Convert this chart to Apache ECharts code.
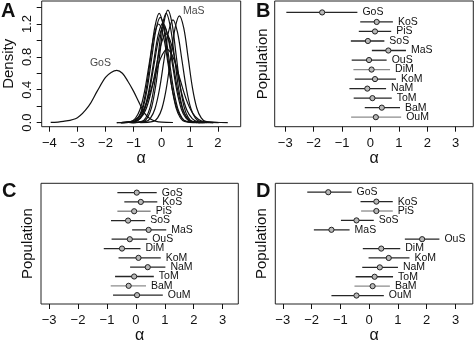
<!DOCTYPE html>
<html><head><meta charset="utf-8">
<script src="https://cdn.jsdelivr.net/npm/echarts@6/dist/echarts.min.js"></script>
<style>html,body{margin:0;padding:0;background:#fff}#c{width:474px;height:345px}</style>
</head><body><div id="c"></div>
<script>
// ---------- DATA ----------
const populations = ['GoS','KoS','PiS','SoS','MaS','OuS','DiM','KoM','NaM','ToM','BaM','OuM'];

// Panel A: posterior densities of alpha (x, density)
const densGoS = [[-3.95,0.002],[-3.5,0.015],[-3.0,0.06],[-2.6,0.2],[-2.3,0.38],[-2.0,0.55],[-1.8,0.61],[-1.6,0.635],[-1.4,0.6],[-1.2,0.5],[-1.0,0.38],[-0.8,0.24],[-0.6,0.11],[-0.4,0.045],[-0.2,0.015],[0.0,0.005],[0.4,0.001]];
const densKoS = [[-1.085,0],[-0.65,0.015],[-0.505,0.06],[-0.36,0.185],[-0.215,0.445],[-0.07,0.83],[0.075,1.21],[0.22,1.37],[0.365,1.21],[0.51,0.83],[0.655,0.445],[0.80,0.185],[0.945,0.06],[1.09,0.015],[1.525,0]];
const densPiS = [[-1.145,0],[-0.71,0.015],[-0.565,0.059],[-0.42,0.18],[-0.275,0.43],[-0.13,0.81],[0.015,1.17],[0.16,1.33],[0.305,1.17],[0.45,0.81],[0.595,0.43],[0.74,0.18],[0.885,0.059],[1.03,0.015],[1.465,0]];
const densSoS = [[-1.44,0],[-0.99,0.015],[-0.84,0.059],[-0.69,0.18],[-0.54,0.43],[-0.39,0.81],[-0.24,1.17],[-0.09,1.33],[0.06,1.17],[0.21,0.81],[0.36,0.43],[0.51,0.18],[0.66,0.059],[0.81,0.015],[1.26,0]];
const densMaS = [[-0.765,0],[-0.30,0.014],[-0.145,0.057],[0.01,0.175],[0.165,0.42],[0.32,0.79],[0.475,1.15],[0.63,1.30],[0.785,1.15],[0.94,0.79],[1.095,0.42],[1.25,0.175],[1.405,0.057],[1.56,0.014],[2.025,0]];
const densOuS = [[-1.445,0],[-0.98,0.014],[-0.825,0.056],[-0.67,0.173],[-0.515,0.416],[-0.36,0.777],[-0.205,1.13],[-0.05,1.28],[0.105,1.13],[0.26,0.777],[0.415,0.416],[0.57,0.173],[0.725,0.056],[0.88,0.014],[1.345,0]];
const densDiM = [[-1.445,0],[-0.95,0.013],[-0.785,0.053],[-0.62,0.163],[-0.455,0.393],[-0.29,0.734],[-0.125,1.067],[0.04,1.21],[0.205,1.067],[0.37,0.734],[0.535,0.393],[0.70,0.163],[0.865,0.053],[1.03,0.013],[1.525,0]];
const densKoM = [[-1.505,0],[-0.95,0.012],[-0.765,0.048],[-0.58,0.146],[-0.395,0.351],[-0.21,0.656],[-0.025,0.953],[0.16,1.08],[0.345,0.953],[0.53,0.656],[0.715,0.351],[0.90,0.146],[1.085,0.048],[1.27,0.012],[1.825,0]];
const densNaM = [[-1.595,0],[-1.10,0.013],[-0.935,0.053],[-0.77,0.162],[-0.605,0.39],[-0.44,0.728],[-0.275,1.058],[-0.11,1.2],[0.055,1.058],[0.22,0.728],[0.385,0.39],[0.55,0.162],[0.715,0.053],[0.88,0.013],[1.375,0]];
const densToM = [[-1.46,0],[-0.95,0.013],[-0.78,0.051],[-0.61,0.158],[-0.44,0.38],[-0.27,0.71],[-0.10,1.032],[0.07,1.17],[0.24,1.032],[0.41,0.71],[0.58,0.38],[0.75,0.158],[0.92,0.051],[1.09,0.013],[1.60,0]];
const densBaM = [[-1.04,0],[-0.56,0.014],[-0.40,0.055],[-0.24,0.169],[-0.08,0.406],[0.08,0.759],[0.24,1.10],[0.40,1.25],[0.56,1.10],[0.72,0.759],[0.88,0.406],[1.04,0.169],[1.20,0.055],[1.36,0.014],[1.84,0]];
const densOuM = [[-1.6,0],[-1.16,0.01],[-0.935,0.039],[-0.71,0.12],[-0.485,0.289],[-0.26,0.54],[-0.035,0.785],[0.19,0.89],[0.415,0.785],[0.64,0.54],[0.865,0.289],[1.09,0.12],[1.315,0.039],[1.54,0.01],[2.35,0]];
const densities = [densGoS,densKoS,densPiS,densSoS,densMaS,densOuS,densDiM,densKoM,densNaM,densToM,densBaM,densOuM];
const annotA = [['GoS',-2.18,0.72],['MaS',1.14,1.36]];

// Panel B
const bLow  = [-2.96,-0.36,-0.41,-0.69,0.05,-0.66,-0.60,-0.55,-0.74,-0.59,-0.20,-0.68];
const bMid  = [-1.70,0.22,0.16,-0.09,0.63,-0.05,0.04,0.16,-0.11,0.07,0.40,0.19];
const bHigh = [-0.46,0.79,0.73,0.49,1.25,0.57,0.69,0.90,0.55,0.75,1.04,1.08];
const bGray = [0,0,0,0,0,0,1,0,0,0,0,1];
// Panel C
const cLow  = [-0.64,-0.40,-0.64,-0.86,-0.13,-0.84,-1.11,-0.60,-0.20,-0.72,-0.87,-0.79];
const cMid  = [0.03,0.17,-0.06,-0.27,0.44,-0.21,-0.48,0.09,0.41,-0.06,-0.25,0.04];
const cHigh = [0.72,0.74,0.51,0.32,1.05,0.39,0.16,0.86,1.02,0.62,0.35,0.93];
const cGray = [0,0,1,0,0,0,0,0,0,0,1,0];
// Panel D
const dLow  = [-2.15,-0.30,-0.28,-0.98,-1.92,1.24,-0.22,-0.02,-0.24,-0.47,-0.51,-1.31];
const dMid  = [-1.42,0.25,0.25,-0.44,-1.31,1.84,0.42,0.68,0.37,0.19,0.12,-0.44];
const dHigh = [-0.61,0.82,0.82,0.16,-0.68,2.44,1.08,1.40,1.00,0.83,0.72,0.51];
const dGray = [0,0,1,0,0,0,0,0,0,0,1,0];

const xTicksA = [-4,-3,-2,-1,0,1,2];
const xTicksF = [-3,-2,-1,0,1,2,3];
const yTicksA = [0,0.2,0.4,0.6,0.8,1.0,1.2,1.4];
const yLabelsA = [0,0.4,0.8,1.2];

// ---------- CHART ----------
const FONT = 'Liberation Sans, Arial, sans-serif';
const INK = '#111';
const chart = echarts.init(document.getElementById('c'), null, {renderer:'canvas'});

function fmtMinus(v){ return String(v).replace('-', '\u2212'); }

function xAxis(gi, min, max, ticks){
  return {type:'value', gridIndex:gi, min:min, max:max, position:'bottom',
    axisLine:{show:false, onZero:false},
    axisTick:{show:true, length:5, customValues:ticks, lineStyle:{color:INK, width:1}},
    axisLabel:{customValues:ticks, formatter:fmtMinus, fontSize:13, color:INK, margin:10, fontFamily:FONT},
    splitLine:{show:false},
    name:'\u03b1', nameLocation:'middle', nameGap:24,
    nameTextStyle:{fontSize:16, color:INK, fontFamily:FONT}};
}
function yAxisForest(gi, min, max, gap){
  return {type:'value', gridIndex:gi, min:min, max:max, position:'left',
    axisLine:{show:false, onZero:false}, axisTick:{show:false}, axisLabel:{show:false}, splitLine:{show:false},
    name:'Population', nameLocation:'middle', nameGap:gap, nameRotate:90,
    nameTextStyle:{fontSize:15, color:INK, fontFamily:FONT}};
}

function forestData(lo, mid, hi, gray){
  return populations.map((p,i)=>[12-i, lo[i], mid[i], hi[i], gray[i]]);
}
function renderForest(params, api){
  const y = api.value(0), lo = api.value(1), mid = api.value(2), hi = api.value(3), gray = api.value(4);
  const p1 = api.coord([lo,y]), p2 = api.coord([hi,y]), pm = api.coord([mid,y]);
  const col = gray ? '#8c8c8c' : '#262626';
  return {type:'group', children:[
    {type:'line', shape:{x1:p1[0],y1:p1[1],x2:p2[0],y2:p2[1]}, style:{stroke:col, lineWidth:1.3}},
    {type:'circle', shape:{cx:pm[0],cy:pm[1],r:2.6}, style:{fill:'#b8b8b8', stroke:'#222', lineWidth:1}},
    {type:'text', x:p2[0]+5, y:p2[1], style:{text:populations[params.dataIndex], fill:INK,
      font:'10.5px '+FONT, align:'left', verticalAlign:'middle'}}
  ]};
}
function forestSeries(idx, lo, mid, hi, gray){
  return {type:'custom', xAxisIndex:idx, yAxisIndex:idx, renderItem:renderForest,
    data:forestData(lo,mid,hi,gray), silent:true, clip:false};
}

const series = [];
densities.forEach((d)=>{
  series.push({type:'line', xAxisIndex:0, yAxisIndex:0, data:d, showSymbol:false, smooth:0.35,
    lineStyle:{color:'#111', width:1.2}, silent:true, z:3});
});
series.push({type:'scatter', xAxisIndex:0, yAxisIndex:0, symbolSize:0,
  data:annotA.map(a=>({name:a[0], value:[a[1],a[2]]})),
  label:{show:true, position:'inside', formatter:'{b}', color:INK, fontSize:10.5, fontFamily:FONT}});
series.push(forestSeries(1,bLow,bMid,bHigh,bGray));
series.push(forestSeries(2,cLow,cMid,cHigh,cGray));
series.push(forestSeries(3,dLow,dMid,dHigh,dGray));

const gridStyle = {show:true, borderColor:'#222', borderWidth:1, backgroundColor:'transparent'};
const letter = (t,l,tp)=>({text:t, left:l, top:tp, padding:0,
  textStyle:{fontSize:20, fontWeight:'bold', color:'#111', fontFamily:FONT}});

chart.setOption({
  animation:false,
  backgroundColor:'#fff',
  title:[letter('A',1,1), letter('B',256,1), letter('C',2,181), letter('D',256,181)],
  grid:[
    Object.assign({left:41.7, top:1, width:199, height:125.7}, gridStyle),
    Object.assign({left:274.7, top:1, width:198.6, height:125.7}, gridStyle),
    Object.assign({left:41, top:183.3, width:197.3, height:123.4}, gridStyle),
    Object.assign({left:275.3, top:183.3, width:197.5, height:122.7}, gridStyle)
  ],
  xAxis:[
    xAxis(0,-4.27,2.81,xTicksA),
    xAxis(1,-3.37,3.62,xTicksF),
    xAxis(2,-3.28,3.54,xTicksF),
    xAxis(3,-3.26,3.6,xTicksF)
  ],
  yAxis:[
    {type:'value', gridIndex:0, min:-0.05, max:1.48, position:'left',
      axisLine:{show:false, onZero:false},
      axisTick:{show:true, length:5, customValues:yTicksA, lineStyle:{color:INK}},
      axisLabel:{customValues:yLabelsA, rotate:90, fontSize:13, color:INK, margin:8, fontFamily:FONT,
        formatter:v=>v.toFixed(1)},
      splitLine:{show:false},
      name:'Density', nameLocation:'middle', nameGap:25, nameRotate:90,
      nameTextStyle:{fontSize:15, color:INK, fontFamily:FONT}},
    yAxisForest(1,0,13.2,4),
    yAxisForest(2,0.05,13,6),
    yAxisForest(3,0.1,12.95,6)
  ],
  series:series
});
</script></body></html>
